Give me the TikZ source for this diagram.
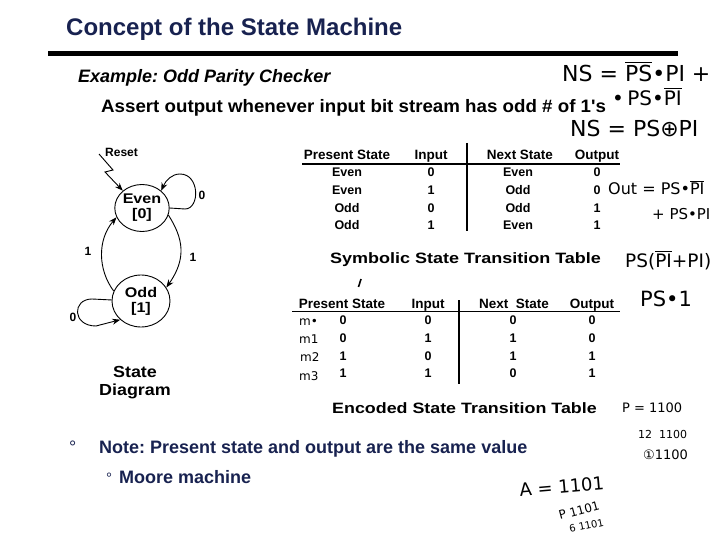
\documentclass[tikz,border=0pt]{standalone}
\usepackage{fontspec}
\setmainfont{Liberation Sans}
\newfontfamily\handfont{DejaVu Sans}
\usepackage{amsmath}
\usepackage{graphicx}
\usepackage{xcolor}
\usetikzlibrary{arrows.meta,shapes.geometric}
\definecolor{slidenavy}{RGB}{24,34,80}
\newcommand{\wide}[2][1.2]{\scalebox{#1}[1]{#2}}
\newcommand{\ovl}[1]{$\overline{\mbox{#1}}$}
\frenchspacing

\begin{document}
\begin{tikzpicture}[x=1pt,y=-1pt,
  every node/.style={inner sep=0pt,font=\bfseries},
  statenode/.style={draw,ellipse,line width=0.9pt,align=center,font=\bfseries\fontsize{14}{15}\selectfont},
  trans/.style={line width=0.9pt,-{Stealth[length=8pt,width=6pt]}},
  edgelbl/.style={font=\bfseries\fontsize{12}{14}\selectfont},
  colhead/.style={anchor=base,font=\bfseries\fontsize{13.5}{15}\selectfont},
  cell/.style={anchor=base,font=\bfseries\fontsize{12.5}{14}\selectfont},
  tabcaption/.style={anchor=base west,font=\bfseries\fontsize{15}{17}\selectfont},
  note/.style={anchor=base west,text=slidenavy,font=\bfseries\fontsize{18}{20}\selectfont},
  hand/.style={anchor=base west,font=\handfont\fontsize{20}{22}\selectfont}]
\useasboundingbox (0,0) rectangle (720,540);

% heading
\node[anchor=base west,text=slidenavy,font=\bfseries\fontsize{24}{26}\selectfont] (title) at (66,36) {Concept of the State Machine};
\fill (48,51) rectangle (678,56.5);
\node[anchor=base west,font=\bfseries\itshape\fontsize{18}{20}\selectfont] (example) at (78,83) {Example: Odd Parity Checker};
\node[anchor=base west,font=\bfseries\fontsize{18}{20}\selectfont] (assert) at (101,113) {\wide[1.04]{Assert output whenever input bit stream has odd \# of 1\textquotesingle s}};

% state diagram
\node[statenode,minimum width=53pt,minimum height=47pt] (even) at (142,208) {\wide[1.15]{Even}\\\wide[1.15]{[0]}};
\node[statenode,minimum width=58pt,minimum height=52pt] (odd) at (141,301) {\wide[1.15]{Odd}\\\wide[1.15]{[1]}};
\node[anchor=base west,font=\bfseries\fontsize{12}{14}\selectfont] (reset) at (105,157) {Reset};
\coordinate (rsttail) at (99,154);
\draw[trans] (rsttail) -- (113,170) -- (105,172) -- (even.138);
\draw[trans] (even.east) -- (185,209) .. controls (200,209) and (200,174) .. (180,174) .. controls (172,174) and (166,180) .. (even.42);
\draw[trans] (even.-15) .. controls (183,238) and (187,258) .. (odd.28);
\draw[trans] (odd.160) .. controls (98,270) and (97,240) .. (even.200);
\draw[trans] (odd.178) -- (92,299) .. controls (72,299) and (72,326) .. (96,326) -- (odd.222);
\node[edgelbl] (loopeven) at (202,195) {0};
\node[edgelbl] (evenodd) at (193,257) {1};
\node[edgelbl] (oddeven) at (88,251) {1};
\node[edgelbl] (loopodd) at (73,317) {0};
\node[anchor=base,font=\bfseries\fontsize{16}{18}\selectfont] (statelbl) at (135,377) {\wide[1.12]{State}};
\node[anchor=base,font=\bfseries\fontsize{16}{18}\selectfont] (diaglbl) at (135,395) {\wide[1.12]{Diagram}};

% symbolic table
\node[colhead] (symps) at (347,160) {Present State};
\node[colhead] (symin) at (431,160) {Input};
\node[colhead] (symns) at (520,160) {Next State};
\node[colhead] (symout) at (597,160) {Output};
\draw[line width=1.2pt] (302,164) -- (620,164);
\draw[line width=1.2pt] (467,143) -- (467,231);
\foreach \yy/\pst/\inp/\nst/\outp [count=\r] in {177/Even/0/Even/0, 194.5/Even/1/Odd/0, 212/Odd/0/Odd/1, 229.5/Odd/1/Even/1} {
  \node[cell] (symps\r) at (347,\yy) {\pst};
  \node[cell] (symin\r) at (431,\yy) {\inp};
  \node[cell] (symns\r) at (518,\yy) {\nst};
  \node[cell] (symout\r) at (597,\yy) {\outp};
}
\node[tabcaption] (symcap) at (330,263) {\wide{Symbolic State Transition Table}};

% encoded table
\node[colhead] (encps) at (342,308.5) {Present State};
\node[colhead] (encin) at (428,308.5) {Input};
\node[colhead] (encns) at (514,308.5) {Next\ \ State};
\node[colhead] (encout) at (592,308.5) {Output};
\draw[line width=1.2pt] (292,311.5) -- (620,311.5);
\draw[line width=1.2pt] (459,300) -- (459,384);
\foreach \yy/\pst/\inp/\nst/\outp [count=\r] in {324/0/0/0/0, 342/0/1/1/0, 360/1/0/1/1, 377/1/1/0/1} {
  \node[cell] (encps\r) at (343,\yy) {\pst};
  \node[cell] (encin\r) at (428,\yy) {\inp};
  \node[cell] (encns\r) at (513,\yy) {\nst};
  \node[cell] (encout\r) at (592,\yy) {\outp};
}
\node[tabcaption] (enccap) at (332,413) {\wide[1.19]{Encoded State Transition Table}};

% notes
\node[note,font=\fontsize{18}{20}\selectfont] (bullet1) at (69,453) {°};
\node[note] (note1) at (99,453) {Note: Present state and output are the same value};
\node[note,font=\fontsize{15}{17}\selectfont] (bullet2) at (106,483) {°};
\node[note] (note2) at (119,483) {Moore machine};

% handwriting
\node[hand] (hm0) at (299,325) {\fontsize{12}{13}\selectfont m•};
\node[hand] (hm1) at (299,343) {\fontsize{12}{13}\selectfont m1};
\node[hand] (hm2) at (300,361) {\fontsize{12}{13}\selectfont m2};
\node[hand] (hm3) at (299,380) {\fontsize{12}{13}\selectfont m3};
\draw[line width=1.6pt] (361,279) -- (358.5,287);
\node[hand,font=\handfont\fontsize{22}{24}\selectfont] (hns1) at (562,82) {NS = \ovl{PS}•PI +};
\node[hand] (hns2) at (612,106) {•\,PS•\ovl{PI}};
\node[hand,font=\handfont\fontsize{22}{24}\selectfont] (hns3) at (570,137) {NS = PS⊕PI};
\node[hand,font=\handfont\fontsize{16}{18}\selectfont] (hout1) at (608,195) {Out = PS•\ovl{PI}};
\node[hand,font=\handfont\fontsize{15}{17}\selectfont] (hout2) at (652,220) {+ PS•PI};
\node[hand,font=\handfont\fontsize{18.5}{21}\selectfont] (hout3) at (625,267) {PS(\ovl{PI}+PI)};
\node[hand,font=\handfont\fontsize{21}{23}\selectfont] (hout4) at (640,306) {PS•1};
\node[hand,font=\handfont\fontsize{13}{15}\selectfont] (hp1) at (622,412) {P = 1100};
\node[hand,font=\handfont\fontsize{11}{12}\selectfont] (hp2) at (638,438) {12\ \ 1100};
\node[hand,font=\handfont\fontsize{13}{15}\selectfont] (hp3) at (643,459) {①1100};
\node[hand,font=\handfont\fontsize{18}{20}\selectfont,rotate=5] (ha) at (520,497) {A = 1101};
\node[hand,font=\handfont\fontsize{12}{14}\selectfont,rotate=15] (hb) at (560,520) {P 1101};
\node[hand,font=\handfont\fontsize{10}{12}\selectfont,rotate=12] (hc) at (570,533) {6 1101};
\end{tikzpicture}
\end{document}
